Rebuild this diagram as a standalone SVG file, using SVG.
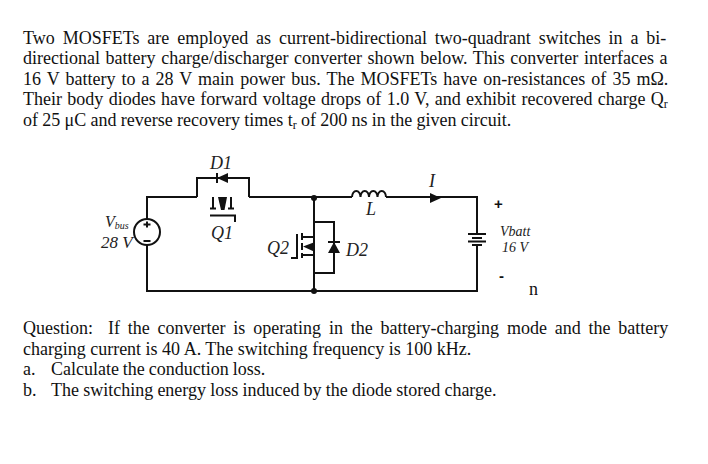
<svg xmlns="http://www.w3.org/2000/svg" width="708" height="464" viewBox="0 0 708 464">
<style>
.t{font-family:"Liberation Serif","Times New Roman",serif;font-size:18px;fill:#111}
.i{font-family:"Liberation Serif","Times New Roman",serif;font-style:italic;fill:#222}
.w{fill:none;stroke:#111;stroke-width:2}
.f{fill:#111;stroke:none}
</style>
<rect width="708" height="464" fill="#fff"/>
<g id="problem-text">
<text class="t" x="23" y="44" word-spacing="3.4">Two MOSFETs are employed as current-bidirectional two-quadrant switches in a bi-</text>
<text class="t" x="23" y="64" word-spacing="1.1">directional battery charge/discharger converter shown below. This converter interfaces a</text>
<text class="t" x="23" y="85" word-spacing="1.56">16 V battery to a 28 V main power bus. The MOSFETs have on-resistances of 35 mΩ.</text>
<text class="t" x="23" y="105" word-spacing="0.85">Their body diodes have forward voltage drops of 1.0 V, and exhibit recovered charge Q<tspan font-size="12" dy="3">r</tspan></text>
<text class="t" x="23" y="126" word-spacing="-0.2">of 25 μC and reverse recovery times t<tspan font-size="12" dy="3">r</tspan><tspan dy="-3"> of 200 ns in the given circuit.</tspan></text>
</g>
<g id="connectors">
<path class="w" d="M147 219V197H197M249 197H314H352M386 197H477V234M477 245V291H147V245"/>
<path class="w" d="M197 197V178H249V197"/>
<path class="w" d="M314 197V291M314 222H334V273H314"/>
<path class="w" d="M352 197a4.250 6 0 0 1 8.500 0a4.250 6 0 0 1 8.500 0a4.250 6 0 0 1 8.500 0a4.250 6 0 0 1 8.500 0"/>
<path class="f" d="M430 193L441 198L430 203Z"/>
<circle class="f" cx="314" cy="198" r="3"/>
<circle class="f" cx="314" cy="291" r="3"/>
</g>
<g id="source-vbus">
<circle cx="147" cy="232" r="13" fill="#fff" stroke="#111" stroke-width="2"/>
<path class="w" d="M143.500 224.500H150.500M147 221.500V227.500M143.500 241H150.500"/>
<text class="i" x="105" y="227" font-size="16">V<tspan font-size="10" dy="2">bus</tspan></text>
<text class="i" x="101" y="248" font-size="17">28 V</text>
</g>
<g id="d1">
<path class="f" d="M217 178L228 173V183Z"/>
<path class="w" d="M217 173V183"/>
<text class="i" x="210" y="169" font-size="18">D1</text>
</g>
<g id="q1">
<path class="w" d="M213 197V208M231 197V208M210 208.500H216M228 208.500H234M210 215.500H235V222"/>
<path class="f" d="M218 197H227L224.500 210H221Z"/>
<text class="i" x="211" y="239" font-size="18">Q1</text>
</g>
<g id="q2">
<path class="w" d="M302 237H314M302 255H314M302 233V240M302 243V250M302 253V258M297 234V258H291"/>
<path class="f" d="M303 246.500L315 242V252Z"/>
<text class="i" x="267" y="254" font-size="18">Q2</text>
</g>
<g id="d2">
<path class="f" d="M328 253L334 242L340 253Z"/>
<path class="w" d="M328 242H340"/>
<text class="i" x="346" y="256" font-size="18">D2</text>
</g>
<g id="inductor-l"><text class="i" x="366" y="215" font-size="18">L</text></g>
<g id="current-i"><text class="i" x="429" y="187" font-size="18">I</text></g>
<g id="battery">
<path class="w" d="M468 234H486M472 238H482M468 241.500H486M472 245H482"/>
<text x="494" y="209" font-family="Liberation Sans,sans-serif" font-size="15" font-weight="700" fill="#111">+</text>
<text x="499" y="281" font-family="Liberation Sans,sans-serif" font-size="15" font-weight="700" fill="#111">-</text>
<text class="i" x="500" y="236" font-size="14">Vbatt</text>
<text class="i" x="502" y="252" font-size="14">16 V</text>
</g>
<g id="stray-n"><text class="t" x="529" y="295">n</text></g>
<g id="question-text">
<text class="t" x="23" y="334">Question:</text>
<text class="t" x="108" y="334" word-spacing="3.3">If the converter is operating in the battery-charging mode and the battery</text>
<text class="t" x="23" y="355">charging current is 40 A. The switching frequency is 100 kHz.</text>
<text class="t" x="23" y="375">a.</text><text class="t" x="51" y="375" word-spacing="-0.6">Calculate the conduction loss.</text>
<text class="t" x="23" y="396">b.</text><text class="t" x="51" y="396" word-spacing="-0.3">The switching energy loss induced by the diode stored charge.</text>
</g>
</svg>
